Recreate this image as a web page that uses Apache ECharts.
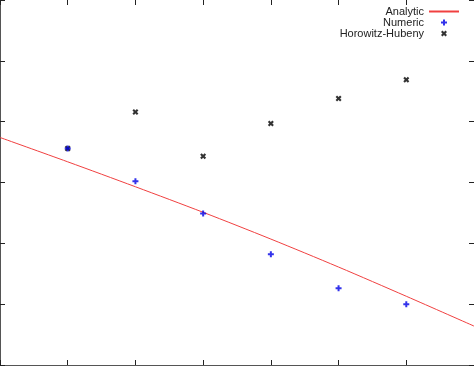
<!DOCTYPE html>
<html>
<head>
<meta charset="utf-8">
<script src="https://cdn.jsdelivr.net/npm/echarts@6/dist/echarts.min.js"></script>
<style>html,body{margin:0;padding:0;background:#fff}#c{width:474px;height:366px}</style>
</head>
<body>
<div id="c"></div>
<script>
// Data (arbitrary units; axes unlabeled in the crop)
var xPoints = [1, 2, 3, 4, 5, 6];
var numericY = [3.56, 3.02, 2.49, 1.82, 1.26, 1.00];
var horowitzY = [3.56, 4.16, 3.43, 3.97, 4.38, 4.69];
var analyticX = [0, 1, 2, 3, 4, 5, 6, 7];
var analyticY = [3.74, 3.34, 2.93, 2.51, 2.07, 1.61, 1.13, 0.64];
var seriesNames = ['Analytic', 'Numeric', 'Horowitz-Hubeny'];

function pairs(xs, ys) { return xs.map(function (x, i) { return [x, ys[i]]; }); }

var plusPath = 'path://M2,0H4V2H6V4H4V6H2V4H0V2H2Z';
var crossPath = 'path://M0,1.5L1.5,0L3,1.5L4.5,0L6,1.5L4.5,3L6,4.5L4.5,6L3,4.5L1.5,6L0,4.5L1.5,3Z';

function makeAxis(max, position, extra) {
  var a = {
    type: 'value', min: 0, max: max, interval: 1, position: position,
    axisLine: { show: true, onZero: false, lineStyle: { color: '#555', width: 1 } },
    axisTick: { show: true, inside: true, length: 5, lineStyle: { color: '#222', width: 1 } },
    axisLabel: { show: false },
    splitLine: { show: false }
  };
  return Object.assign(a, extra || {});
}

var chart = echarts.init(document.getElementById('c'), null, { renderer: 'canvas' });
chart.setOption({
  animation: false,
  backgroundColor: '#fff',
  grid: { left: 0, right: 0, top: -1, bottom: 1, containLabel: false },
  xAxis: [
    makeAxis(7, 'bottom'),
    // top frame: a bottom-positioned axis shifted up to the top edge, ticks pointing down into the plot
    makeAxis(7, 'bottom', {
      offset: -366,
      axisTick: { show: true, inside: false, length: 6, lineStyle: { color: '#222', width: 1 } }
    })
  ],
  yAxis: [makeAxis(6, 'left'), makeAxis(6, 'right')],
  legend: {
    orient: 'vertical', align: 'right', right: 9, top: 1,
    itemWidth: 30, itemHeight: 6, itemGap: 0,
    textStyle: { fontFamily: 'Liberation Sans, Arial, sans-serif', fontSize: 11, color: '#222', lineHeight: 11 },
    data: [
      { name: seriesNames[0], itemStyle: { color: 'rgba(0,0,0,0)', borderWidth: 0, opacity: 0 } },
      seriesNames[1],
      seriesNames[2]
    ]
  },
  series: [
    {
      name: seriesNames[0], type: 'line', data: pairs(analyticX, analyticY),
      smooth: 0.3, showSymbol: false, symbol: 'none',
      lineStyle: { color: '#f04040', width: 1 }, itemStyle: { color: '#f04040' }, z: 2
    },
    {
      name: seriesNames[2], type: 'scatter', data: pairs(xPoints, horowitzY),
      symbol: crossPath, symbolSize: 6, symbolKeepAspect: true,
      itemStyle: { color: '#000' }, z: 3
    },
    {
      name: seriesNames[1], type: 'scatter', data: pairs(xPoints, numericY),
      symbol: plusPath, symbolSize: 6, symbolKeepAspect: true,
      itemStyle: { color: '#0000e6' }, z: 4
    },
    { name: '_top', type: 'scatter', data: [[2, 2]], xAxisIndex: 1, yAxisIndex: 1, silent: true, symbolSize: 0 }
  ]
});
</script>
</body>
</html>
